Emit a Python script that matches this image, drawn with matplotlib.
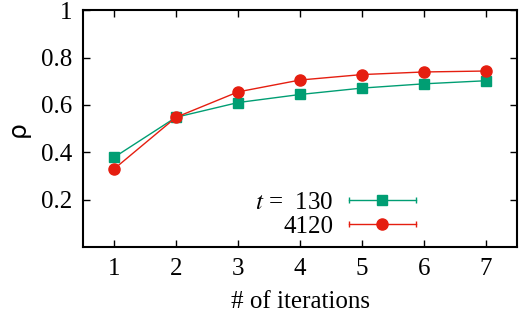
import numpy as np
import matplotlib
matplotlib.use("Agg")
import matplotlib.pyplot as plt
from matplotlib.lines import Line2D
from matplotlib.legend_handler import HandlerLine2D, HandlerTuple

plt.rcParams['font.family'] = ['Liberation Serif', 'DejaVu Serif']
plt.rcParams['mathtext.fontset'] = 'stix'

# data
iterations = [1, 2, 3, 4, 5, 6, 7]
rho_130 = [0.379, 0.548, 0.610, 0.644, 0.671, 0.689, 0.702]
err_130 = [0.004, 0.004, 0.004, 0.004, 0.005, 0.006, 0.010]
rho_4120 = [0.330, 0.548, 0.655, 0.705, 0.728, 0.739, 0.743]
err_4120 = [0.003, 0.003, 0.003, 0.003, 0.003, 0.004, 0.005]
labels = [r"$t$ =  130", "4120"]

green = '#009e73'
red = '#e51e10'

fig = plt.figure(figsize=(5.2, 3.16), dpi=100)
ax = fig.add_axes([0.16, 0.218, 0.834, 0.75])

ax.errorbar(iterations, rho_130, yerr=err_130, color=green, marker='s', ms=7,
            lw=1, capsize=2, elinewidth=1)
ax.errorbar(iterations, rho_4120, yerr=err_4120, color=red, marker='o', ms=8,
            lw=1, capsize=2, elinewidth=1)

ax.set_xlim(0.5, 7.5)
ax.set_ylim(0, 1)
ax.set_xticks(iterations)
ax.set_yticks([0.2, 0.4, 0.6, 0.8, 1.0])
ax.set_yticklabels(['0.2', '0.4', '0.6', '0.8', '1'])
ax.tick_params(direction='in', length=5, width=1, top=True, right=True,
               labelsize=18, pad=8)
for s in ax.spines.values():
    s.set_linewidth(1.5)

ax.set_xlabel('# of iterations', fontsize=18, labelpad=8)
ax.set_ylabel('ρ', fontsize=18, labelpad=8, family='DejaVu Sans')

# legend samples: horizontal line with caps, marker in the middle
handles = []
hmap = {}
for c, m, s in [(green, 's', 7), (red, 'o', 8)]:
    caps = Line2D([], [], color=c, lw=1, marker='|', ms=5)
    mark = Line2D([], [], color=c, lw=0, marker=m, ms=s)
    hmap[caps] = HandlerLine2D(numpoints=2)
    hmap[mark] = HandlerLine2D(numpoints=1)
    handles.append((caps, mark))
hmap[tuple] = HandlerTuple(ndivide=1, pad=0)

ax.legend(handles, labels, handler_map=hmap, markerfirst=False, frameon=False,
          fontsize=18, handlelength=3.3, handletextpad=0.3, labelspacing=0.05,
          loc='lower right', bbox_to_anchor=(0.837, -0.055))

fig.savefig('out.png', dpi=100)
